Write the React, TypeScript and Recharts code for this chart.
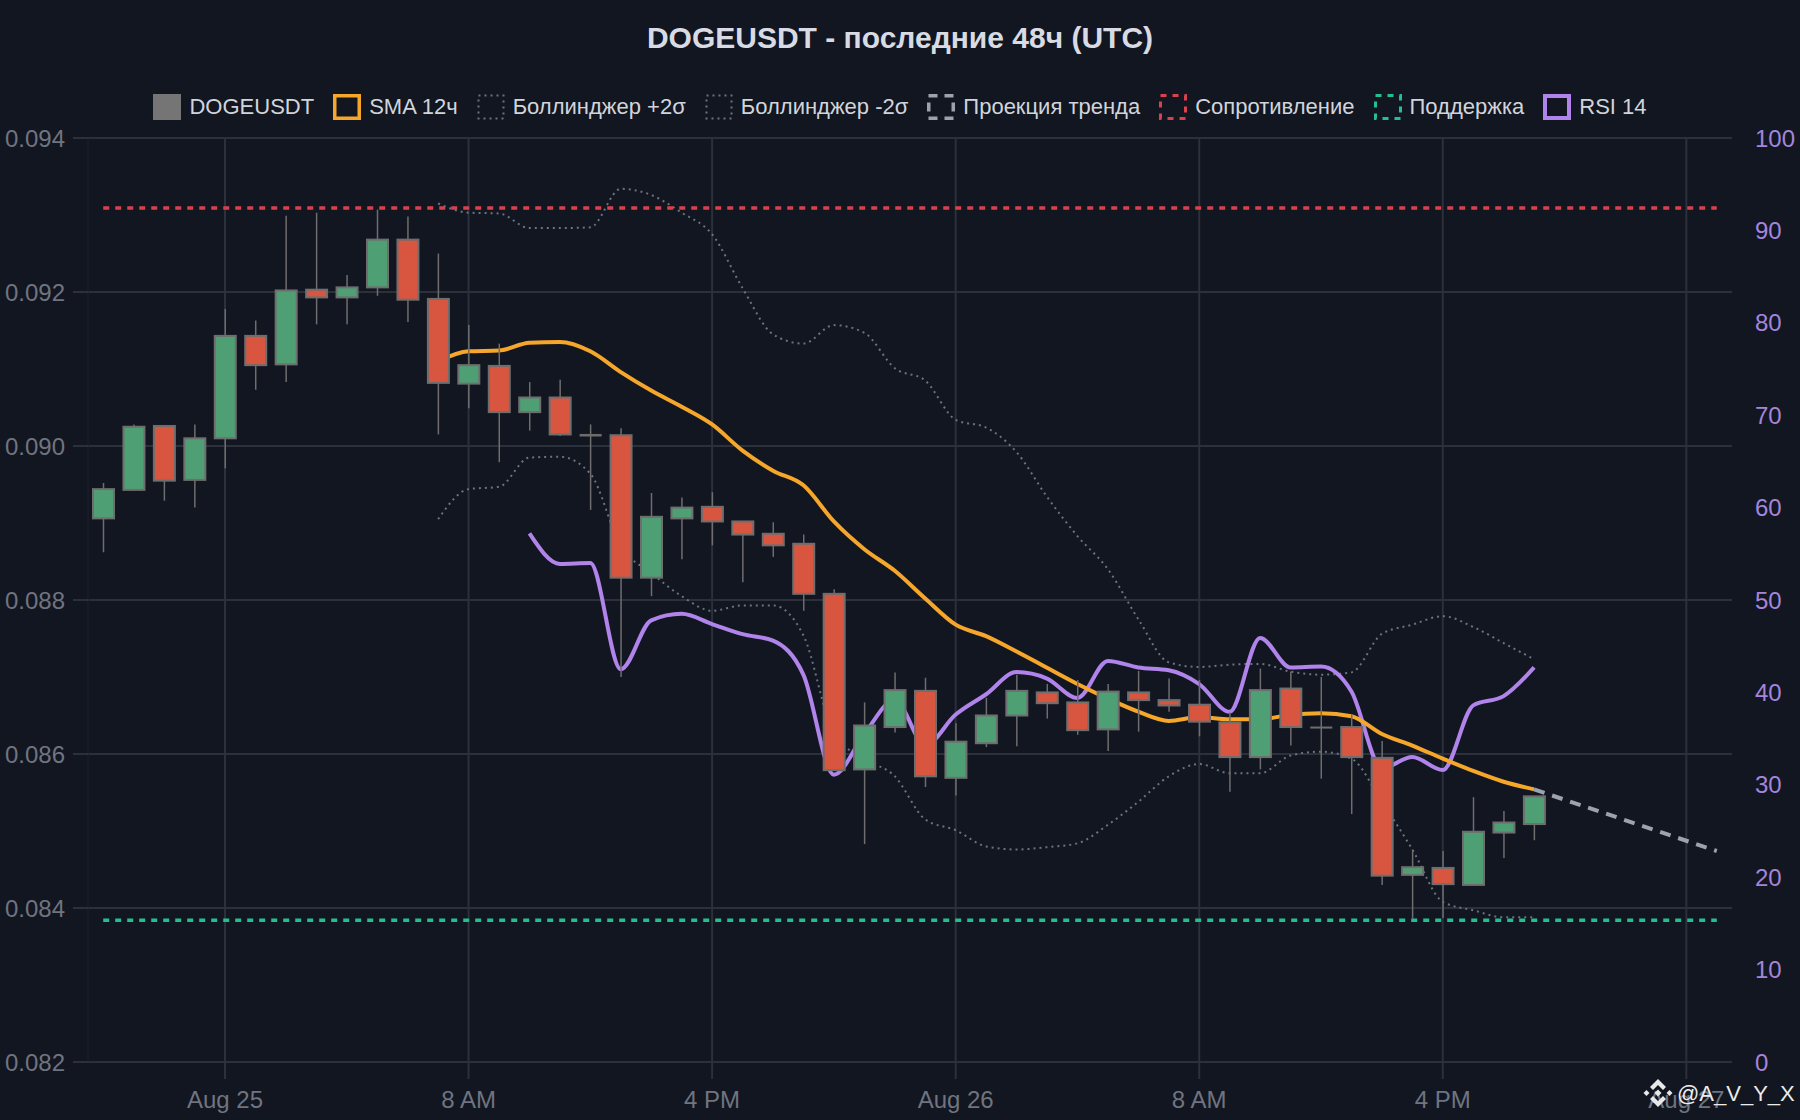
import React from "react"
import {
  ComposedChart,
  Bar,
  Line,
  XAxis,
  YAxis,
  CartesianGrid,
  Legend,
} from "recharts"

// hours from Aug 25 00:00 UTC
const hours = [
  -4, -3, -2, -1, 0, 1, 2, 3, 4, 5, 6, 7, 8, 9, 10, 11, 12, 13, 14, 15, 16, 17, 18, 19,
  20, 21, 22, 23, 24, 25, 26, 27, 28, 29, 30, 31, 32, 33, 34, 35, 36, 37, 38, 39, 40, 41, 42, 43,
]
const lastHour = 49

const opens = [
  0.08906, 0.08943, 0.09026, 0.08956, 0.0901, 0.09143, 0.09106, 0.09203, 0.09193, 0.09206, 0.09268, 0.09191,
  0.09081, 0.09104, 0.09044, 0.09063, 0.09015, 0.09014, 0.08829, 0.08906, 0.08921, 0.08902, 0.08886, 0.08873,
  0.08808, 0.0858, 0.08635, 0.08682, 0.08569, 0.08614, 0.0865, 0.0868, 0.08667, 0.08632, 0.0868, 0.0867,
  0.08664, 0.08641, 0.08596, 0.08685, 0.08635, 0.08635, 0.08595, 0.08443, 0.08452, 0.0843, 0.08498, 0.08509,
]
const closes = [
  0.08944, 0.09025, 0.08955, 0.0901, 0.09143, 0.09105, 0.09202, 0.09193, 0.09206, 0.09268, 0.0919, 0.09082,
  0.09105, 0.09044, 0.09063, 0.09015, 0.09013, 0.08829, 0.08908, 0.0892, 0.08902, 0.08885, 0.08871, 0.08808,
  0.08579, 0.08637, 0.08683, 0.08571, 0.08616, 0.0865, 0.08682, 0.08666, 0.08631, 0.08681, 0.0867, 0.08663,
  0.08642, 0.08596, 0.08683, 0.08635, 0.08634, 0.08596, 0.08442, 0.08453, 0.08431, 0.08499, 0.08511, 0.08545,
]
const highs = [
  0.08952, 0.09028, 0.09027, 0.09028, 0.09178, 0.09163, 0.09299, 0.09303, 0.09222, 0.09307, 0.09298, 0.0925,
  0.09157, 0.09133, 0.09083, 0.09086, 0.09028, 0.09023, 0.08939, 0.08933, 0.0894, 0.08902, 0.08901, 0.08885,
  0.08814, 0.08667, 0.08706, 0.08699, 0.0864, 0.08673, 0.08703, 0.08691, 0.08696, 0.08691, 0.08708, 0.08698,
  0.08696, 0.08654, 0.08711, 0.08707, 0.087, 0.08652, 0.08617, 0.08476, 0.08474, 0.08544, 0.08526, 0.08545,
]
const lows = [
  0.08862, 0.08943, 0.08929, 0.0892, 0.08971, 0.09073, 0.09083, 0.09158, 0.09158, 0.09195, 0.09161, 0.09015,
  0.09049, 0.08979, 0.0902, 0.09013, 0.08917, 0.087, 0.08805, 0.08853, 0.08871, 0.08823, 0.08856, 0.08786,
  0.08579, 0.08483, 0.08628, 0.08557, 0.08546, 0.08609, 0.0861, 0.08646, 0.08625, 0.08604, 0.08629, 0.08655,
  0.08623, 0.08551, 0.0858, 0.08611, 0.08568, 0.08522, 0.0843, 0.08386, 0.08387, 0.08429, 0.08465, 0.08488,
]

// values start at hour 7
const sma12 = [
  0.0911, 0.09123, 0.09124, 0.09134, 0.09135, 0.09123, 0.09096, 0.09072, 0.09051, 0.09028, 0.08994, 0.08968, 0.08949,
  0.08902, 0.08866, 0.08838, 0.08802, 0.08768, 0.08753, 0.08733, 0.08712, 0.08691, 0.08672, 0.08655, 0.08643,
  0.08648, 0.08645, 0.08645, 0.08651, 0.08653, 0.08649, 0.08626, 0.08611, 0.08594, 0.08578, 0.08564, 0.08554,
]
const bollUpper = [
  0.09315, 0.09303, 0.09302, 0.09283, 0.09283, 0.09284, 0.09334, 0.09326, 0.09303, 0.09275, 0.09205, 0.09145, 0.09133,
  0.09157, 0.09147, 0.09101, 0.09085, 0.09034, 0.09024, 0.08992, 0.08934, 0.08883, 0.0884, 0.08775, 0.08719,
  0.08713, 0.08716, 0.08717, 0.08707, 0.08703, 0.08706, 0.08756, 0.08768, 0.08779, 0.08765, 0.08744, 0.08723,
]
const bollLower = [
  0.08905, 0.08944, 0.08947, 0.08985, 0.08986, 0.08964, 0.0887, 0.08835, 0.08805, 0.08786, 0.08793, 0.08793, 0.08754,
  0.08626, 0.08594, 0.08571, 0.08515, 0.08501, 0.0848, 0.08476, 0.08479, 0.08484, 0.08508, 0.08538, 0.08571,
  0.08587, 0.08575, 0.08575, 0.08598, 0.08603, 0.08594, 0.08538, 0.08476, 0.08408, 0.08397, 0.08388, 0.08388,
]
// values start at hour 10
const rsi14 = [
  57.2, 53.9, 54, 42.5, 47.8, 48.5, 47.4, 46.3, 45.6, 41.9, 31.1, 35.5, 39.2, 34.3, 37.6, 39.8, 42.2,
  41.5, 39.4, 43.4, 42.7, 42.4, 40.9, 37.9, 45.9, 42.7, 42.8, 40.1, 31.8, 33, 31.6, 38.6, 39.6, 42.7,
]

const projectionStart = 0.08554
const projectionEnd = 0.08474
const resistance = 0.09309
const support = 0.08384

const priceTicks = [0.082, 0.084, 0.086, 0.088, 0.09, 0.092, 0.094]
const rsiTicks = [0, 10, 20, 30, 40, 50, 60, 70, 80, 90, 100]
const timeTicks = [0, 8, 16, 24, 32, 40, 48]
const timeLabels = ["Aug 25", "8 AM", "4 PM", "Aug 26", "8 AM", "4 PM", "Aug 27"]

const legendOrder = [
  "DOGEUSDT",
  "SMA 12ч",
  "Боллинджер +2σ",
  "Боллинджер -2σ",
  "Проекция тренда",
  "Сопротивление",
  "Поддержка",
  "RSI 14",
]

const GRID = "#2c303a"
const BG = "#121620"
const CANDLE_UP = "#4f9f75"
const CANDLE_DOWN = "#d8553f"
const CANDLE_EDGE = "#6e6e6e"

const rows = [...hours, lastHour].map((hour, i) => {
  const row: any = { hour }
  if (i < hours.length) {
    row.open = opens[i]
    row.close = closes[i]
    row.high = highs[i]
    row.low = lows[i]
    row.range = [lows[i], highs[i]]
  }
  if (hour >= 7 && hour <= 43) {
    row.sma = sma12[hour - 7]
    row.upper = bollUpper[hour - 7]
    row.lower = bollLower[hour - 7]
  }
  if (hour >= 10 && hour <= 43) row.rsi = rsi14[hour - 10]
  if (hour === 43) row.projection = projectionStart
  if (hour === lastHour) row.projection = projectionEnd
  if (hour === -4 || hour === lastHour) {
    row.resistance = resistance
    row.support = support
  }
  return row
})

// body and wick come from the pixel box the bar scale gives for low..high
function Candle(props: any) {
  const { x, y, width, height, payload } = props
  if (payload == null || payload.high == null) return null
  const k = height / (payload.high - payload.low)
  const cx = x + width / 2
  const top = y + (payload.high - Math.max(payload.open, payload.close)) * k
  const bottom = y + (payload.high - Math.min(payload.open, payload.close)) * k
  const flat = bottom - top < 3
  const fill = payload.close >= payload.open ? CANDLE_UP : CANDLE_DOWN
  return (
    <g>
      <line x1={cx} x2={cx} y1={y} y2={y + height} stroke={CANDLE_EDGE} strokeWidth={1.5} />
      <rect
        x={x}
        y={top}
        width={width}
        height={Math.max(bottom - top, 1)}
        fill={flat ? CANDLE_EDGE : fill}
        stroke={CANDLE_EDGE}
        strokeWidth={flat ? 1 : 2}
      />
    </g>
  )
}

function LegendBox({ stroke, dash, width = 3, fill = "none" }: any) {
  return (
    <svg width={28} height={26} style={{ display: "block", flex: "none" }}>
      <rect x={1.5} y={1.5} width={25} height={23} fill={fill} stroke={stroke} strokeWidth={width} strokeDasharray={dash} />
    </svg>
  )
}

const legendBoxes: Record<string, any> = {
  DOGEUSDT: { stroke: "#757575", fill: "#757575" },
  "SMA 12ч": { stroke: "#f5a62b", width: 4 },
  "Боллинджер +2σ": { stroke: "#6b7280", dash: "2 4", width: 2 },
  "Боллинджер -2σ": { stroke: "#6b7280", dash: "2 4", width: 2 },
  "Проекция тренда": { stroke: "#9ca3af", dash: "9 7", width: 4 },
  Сопротивление: { stroke: "#dc3f4e", dash: "6 6", width: 3 },
  Поддержка: { stroke: "#22c08f", dash: "6 6", width: 3 },
  "RSI 14": { stroke: "#b084ea", width: 5 },
}

function ChartLegend() {
  return (
    <div
      style={{
        display: "flex",
        justifyContent: "center",
        alignItems: "center",
        height: 0,
        width: 1800,
        color: "#d1d5db",
        fontFamily: "'Liberation Sans'",
        fontSize: 22,
      }}
    >
      {legendOrder.map((name) => (
        <div key={name} style={{ display: "flex", alignItems: "center", marginRight: name === "RSI 14" ? 0 : 19, whiteSpace: "nowrap" }}>
          <LegendBox {...legendBoxes[name]} />
          <span style={{ marginLeft: 8 }}>{name}</span>
        </div>
      ))}
    </div>
  )
}

function BinanceMark() {
  const petal = "M0 -5 L5 0 L0 5 L-5 0 Z"
  return (
    <svg width={30} height={30} viewBox="-15 -15 30 30" style={{ position: "absolute", left: 1643, top: 1078 }}>
      <g fill="#e8e8e8">
        <path d={petal} transform="translate(0 0) scale(0.7)" />
        <path d={petal} transform="translate(-11.5 0) scale(0.6)" />
        <path d={petal} transform="translate(11.5 0) scale(0.6)" />
        <path d="M0 -14 L8 -6 L5 -3 L0 -8 L-5 -3 L-8 -6 Z" />
        <path d="M0 14 L8 6 L5 3 L0 8 L-5 3 L-8 6 Z" />
      </g>
    </svg>
  )
}

export default function App() {
  return (
    <div style={{ position: "absolute", left: 0, top: 0, width: 1800, height: 1120, background: BG, overflow: "hidden" }}>
      <div
        style={{
          position: "absolute",
          top: 20,
          width: 1800,
          textAlign: "center",
          color: "#d8dbe3",
          fontFamily: "'Liberation Sans'",
          fontWeight: 700,
          fontSize: 30,
          lineHeight: "36px",
        }}
      >
        DOGEUSDT - последние 48ч (UTC)
      </div>
      <ComposedChart
        width={1800}
        height={1120}
        data={rows}
        margin={{ top: 138, right: 0, bottom: 0, left: 0 }}
        style={{ fontFamily: "'Liberation Sans'" }}
      >
        <CartesianGrid yAxisId="price" stroke={GRID} strokeWidth={2} syncWithTicks />
        <XAxis
          dataKey="hour"
          type="number"
          domain={[-4.5, 49.5]}
          ticks={timeTicks}
          interval={0}
          height={58}
          tickSize={17}
          tickMargin={12}
          tickFormatter={(v: number) => timeLabels[timeTicks.indexOf(v)]}
          tick={{ fill: "#6f7480", fontSize: 24 }}
          tickLine={{ stroke: GRID, strokeWidth: 2 }}
          axisLine={false}
        />
        <YAxis
          yAxisId="price"
          domain={[0.082, 0.094]}
          ticks={priceTicks}
          interval={0}
          width={88}
          tickSize={15}
          tickMargin={8}
          tickFormatter={(v: number) => v.toFixed(3)}
          tick={{ fill: "#6f7480", fontSize: 24 }}
          tickLine={{ stroke: GRID, strokeWidth: 2 }}
          axisLine={{ stroke: "#1b212c" }}
        />
        <YAxis
          yAxisId="rsi"
          orientation="right"
          domain={[0, 100]}
          ticks={rsiTicks}
          interval={0}
          width={68}
          tickSize={0}
          tickMargin={23}
          tick={{ fill: "#a585dc", fontSize: 24 }}
          tickLine={false}
          axisLine={false}
        />
        <Legend
          verticalAlign="top"
          content={() => <ChartLegend />}
          wrapperStyle={{ top: 107, left: 0, width: 1800, height: 0 }}
        />
        <Line yAxisId="price" name="Сопротивление" dataKey="resistance" connectNulls stroke="#dc3f4e" strokeWidth={3.5} strokeDasharray="6 6" dot={false} isAnimationActive={false} />
        <Line yAxisId="price" name="Поддержка" dataKey="support" connectNulls stroke="#22c08f" strokeWidth={3.5} strokeDasharray="6 6" dot={false} isAnimationActive={false} />
        <Line yAxisId="price" name="Боллинджер +2σ" dataKey="upper" type="monotone" stroke="#6b7280" strokeWidth={2} strokeDasharray="2 4" dot={false} isAnimationActive={false} />
        <Line yAxisId="price" name="Боллинджер -2σ" dataKey="lower" type="monotone" stroke="#6b7280" strokeWidth={2} strokeDasharray="2 4" dot={false} isAnimationActive={false} />
        <Line yAxisId="rsi" name="RSI 14" dataKey="rsi" type="monotone" stroke="#b084ea" strokeWidth={4} dot={false} isAnimationActive={false} />
        <Line yAxisId="price" name="SMA 12ч" dataKey="sma" type="monotone" stroke="#f5a62b" strokeWidth={4} dot={false} isAnimationActive={false} />
        <Line yAxisId="price" name="Проекция тренда" dataKey="projection" connectNulls stroke="#9ca3af" strokeWidth={4} strokeDasharray="11 8" dot={false} isAnimationActive={false} />
        {/* candles sit above the lines */}
        <Bar yAxisId="price" name="DOGEUSDT" dataKey="range" barSize={21} fill="#757575" shape={Candle} isAnimationActive={false} {...({ zIndex: 450 } as any)} />
      </ComposedChart>
      <BinanceMark />
      <div
        style={{
          position: "absolute",
          left: 1677,
          top: 1081,
          color: "#ececec",
          fontFamily: "'Liberation Sans'",
          fontSize: 22,
          lineHeight: "26px",
        }}
      >
        @A_V_Y_X
      </div>
    </div>
  )
}
